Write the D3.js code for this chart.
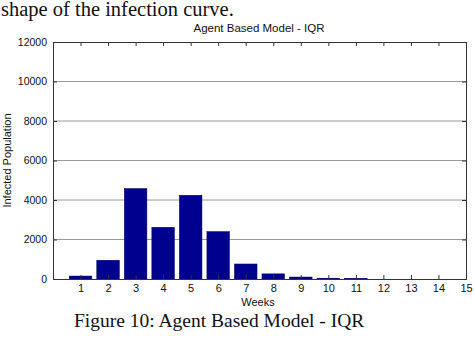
<!DOCTYPE html>
<html>
<head>
<meta charset="utf-8">
<script src="https://cdn.jsdelivr.net/npm/d3@7"></script>
<style>
  body { margin: 0; background: #fff; }
  svg { display: block; }
</style>
</head>
<body>
<div id="graph"></div>
<script>
// weekly infected counts
let weeks = [1, 2, 3, 4, 5, 6, 7, 8, 9, 10, 11, 12, 13, 14];
let infected = [150, 950, 4580, 2620, 4240, 2400, 760, 260, 100, 40, 30, 0, 0, 0];
let x_ticks = [1, 2, 3, 4, 5, 6, 7, 8, 9, 10, 11, 12, 13, 14, 15];
let y_ticks = [0, 2000, 4000, 6000, 8000, 10000, 12000];

let width = 474, height = 351;
let plot_left = 53, plot_right = 466, plot_top = 42, plot_bottom = 279;

let svg = d3.select("#graph")
            .append("svg")
            .attr("width", width)
            .attr("height", height);

let x = d3.scaleLinear().domain([0, 15]).range([plot_left, plot_right]);
let y = d3.scaleLinear().domain([0, 12000]).range([plot_bottom, plot_top]);

let serif = "Liberation Serif, Times New Roman, serif";
let font = "Liberation Sans, Arial, sans-serif";

// page text above the figure
svg.append("text")
   .attr("x", 1).attr("y", 16)
   .attr("font-family", serif)
   .attr("font-size", 20.5)
   .attr("fill", "#111")
   .text("shape of the infection curve.");

// horizontal grid lines
svg.append("g")
   .selectAll("line")
   .data(y_ticks.slice(1, -1))
   .enter().append("line")
   .attr("x1", plot_left).attr("x2", plot_right)
   .attr("y1", d => y(d)).attr("y2", d => y(d))
   .attr("stroke", "#9a9a9a")
   .attr("stroke-width", 1);

// bars
let bw = 0.82 * (x(1) - x(0));
svg.append("g")
   .selectAll("rect")
   .data(infected.map((v, i) => ({week: weeks[i], v: v})))
   .enter().append("rect")
   .attr("x", d => x(d.week) - bw / 2)
   .attr("y", d => y(d.v))
   .attr("width", bw)
   .attr("height", d => plot_bottom - y(d.v))
   .attr("fill", "#00008f")
   .attr("stroke", "#00005a")
   .attr("stroke-width", 0.5);

// axes (MATLAB style box with inward ticks)
let xAxis = svg.append("g")
   .attr("transform", "translate(0," + plot_bottom + ")")
   .call(d3.axisBottom(x).tickValues(x_ticks).tickSize(-4).tickPadding(5).tickFormat(d3.format("d")));
let xTop = svg.append("g")
   .attr("transform", "translate(0," + plot_top + ")")
   .call(d3.axisTop(x).tickValues(x_ticks).tickSize(-4).tickFormat(""));
let yAxis = svg.append("g")
   .attr("transform", "translate(" + plot_left + ",0)")
   .call(d3.axisLeft(y).tickValues(y_ticks).tickSize(-4).tickPadding(6).tickFormat(d3.format("d")));
let yRight = svg.append("g")
   .attr("transform", "translate(" + plot_right + ",0)")
   .call(d3.axisRight(y).tickValues(y_ticks).tickSize(-4).tickFormat(""));

[xAxis, xTop, yAxis, yRight].forEach(function(a) {
  a.select(".domain").attr("stroke", "#333");
  a.selectAll(".tick line").attr("stroke", "#333");
  a.selectAll("text")
   .attr("font-family", font)
   .attr("font-size", 11)
   .attr("fill", "#111");
});
yAxis.selectAll("text").attr("font-size", 10.5);

// titles
svg.append("text")
   .attr("x", 259).attr("y", 32)
   .attr("text-anchor", "middle")
   .attr("font-family", font).attr("font-size", 11.5)
   .attr("fill", "#111")
   .text("Agent Based Model - IQR");

svg.append("text")
   .attr("x", 258).attr("y", 306)
   .attr("text-anchor", "middle")
   .attr("font-family", font).attr("font-size", 11)
   .attr("fill", "#111")
   .text("Weeks");

svg.append("text")
   .attr("transform", "translate(11," + ((plot_top + plot_bottom) / 2) + ") rotate(-90)")
   .attr("text-anchor", "middle")
   .attr("font-family", font).attr("font-size", 11)
   .attr("fill", "#111")
   .text("Infected Population");

// figure caption
svg.append("text")
   .attr("x", 74).attr("y", 327)
   .attr("font-family", serif)
   .attr("font-size", 19.5)
   .attr("fill", "#111")
   .text("Figure 10: Agent Based Model - IQR");
</script>
</body>
</html>
